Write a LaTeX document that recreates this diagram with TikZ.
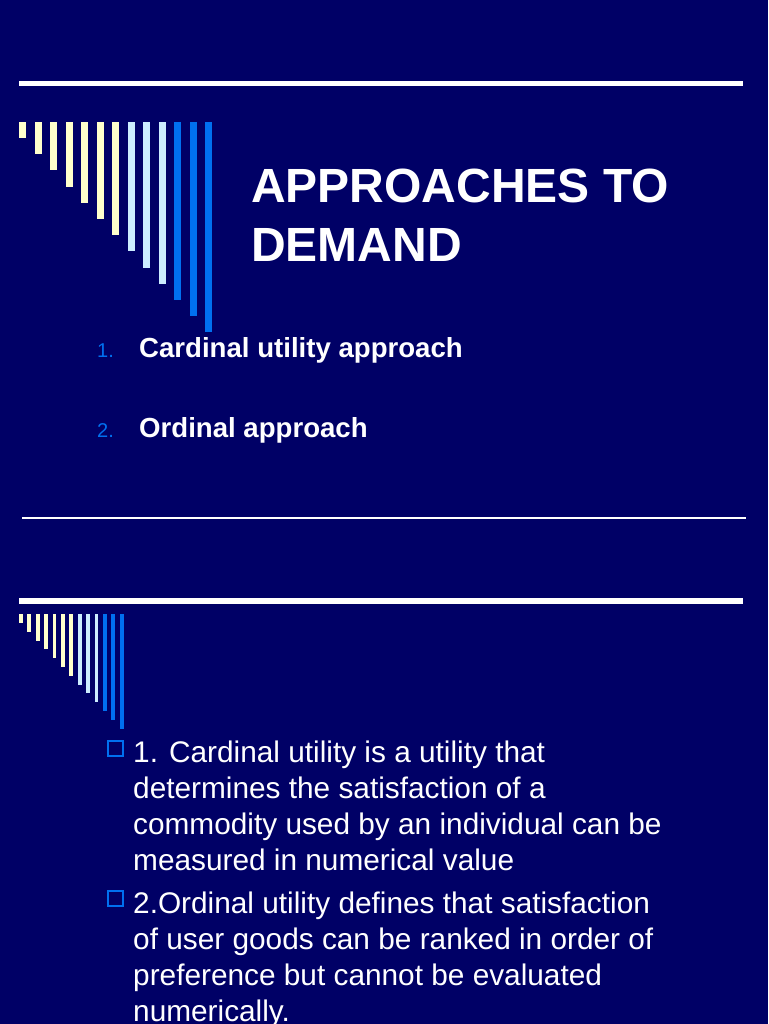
\documentclass[tikz,border=0pt]{standalone}
\usepackage{fontspec}
\setmainfont{Liberation Sans}
\definecolor{bg}{HTML}{000066}
\definecolor{cream}{HTML}{FFFFCC}
\definecolor{lblue}{HTML}{CCECFF}
\definecolor{dblue}{HTML}{0070F0}
\begin{document}
\begin{tikzpicture}[x=1pt,y=-1pt,
  txt/.style={anchor=base west,inner sep=0,text=white,font=\fontsize{29.8}{36}\selectfont},
  ttl/.style={anchor=base west,inner sep=0,text=white,font=\bfseries\fontsize{48}{58}\selectfont},
  num/.style={anchor=base west,inner sep=0,text=dblue,font=\fontsize{20}{22}\selectfont},
  item/.style={anchor=base west,inner sep=0,text=white,font=\bfseries\fontsize{27.6}{30}\selectfont},
  sq/.style={draw=dblue,line width=2pt,fill=none}]
\fill[bg] (0,0) rectangle (768,1024);
\useasboundingbox (0,0) rectangle (768,1024);
\fill[white] (19,81) rectangle (743,86);
\fill[white] (22,517) rectangle (746,519);
\fill[white] (19,598) rectangle (743,604);
% top bars
\foreach \i in {0,...,12}{
  \pgfmathsetmacro{\xx}{19+15.5*\i}
  \pgfmathsetmacro{\yy}{138+16.2*\i}
  \ifnum\i<7 \def\cc{cream}\else\ifnum\i<10 \def\cc{lblue}\else\def\cc{dblue}\fi\fi
  \fill[\cc] (\xx,122) rectangle ({\xx+7},\yy);
}
% bottom bars
\foreach \i in {0,...,12}{
  \pgfmathsetmacro{\xx}{19+8.4*\i}
  \pgfmathsetmacro{\yy}{623+8.8*\i}
  \ifnum\i<7 \def\cc{cream}\else\ifnum\i<10 \def\cc{lblue}\else\def\cc{dblue}\fi\fi
  \fill[\cc] (\xx,614) rectangle ({\xx+3.8},\yy);
}
\node[ttl] (t1) at (251,203) {APPROACHES TO};
\node[ttl] (t2) at (251,261) {DEMAND};
\node[num] (n1) at (97,357) {1.};
\node[item] (i1) at (139,357) {Cardinal utility approach};
\node[num] (n2) at (97,437) {2.};
\node[item] (i2) at (139,437) {Ordinal approach};
\draw[sq] (107.5,740.5) rectangle (122.5,755.5);
\node[txt] (a1) at (133,762) {1. Cardinal utility is a utility that};
\node[txt] (a2) at (133,798) {determines the satisfaction of a};
\node[txt] (a3) at (133,834) {commodity used by an individual can be};
\node[txt] (a4) at (133,870) {measured in numerical value};
\draw[sq] (107.5,890.5) rectangle (122.5,905.5);
\node[txt] (b1) at (133,913) {2.Ordinal utility defines that satisfaction};
\node[txt] (b2) at (133,949) {of user goods can be ranked in order of};
\node[txt] (b3) at (133,985) {preference but cannot be evaluated};
\node[txt] (b4) at (133,1021) {numerically.};
\end{tikzpicture}
\end{document}
